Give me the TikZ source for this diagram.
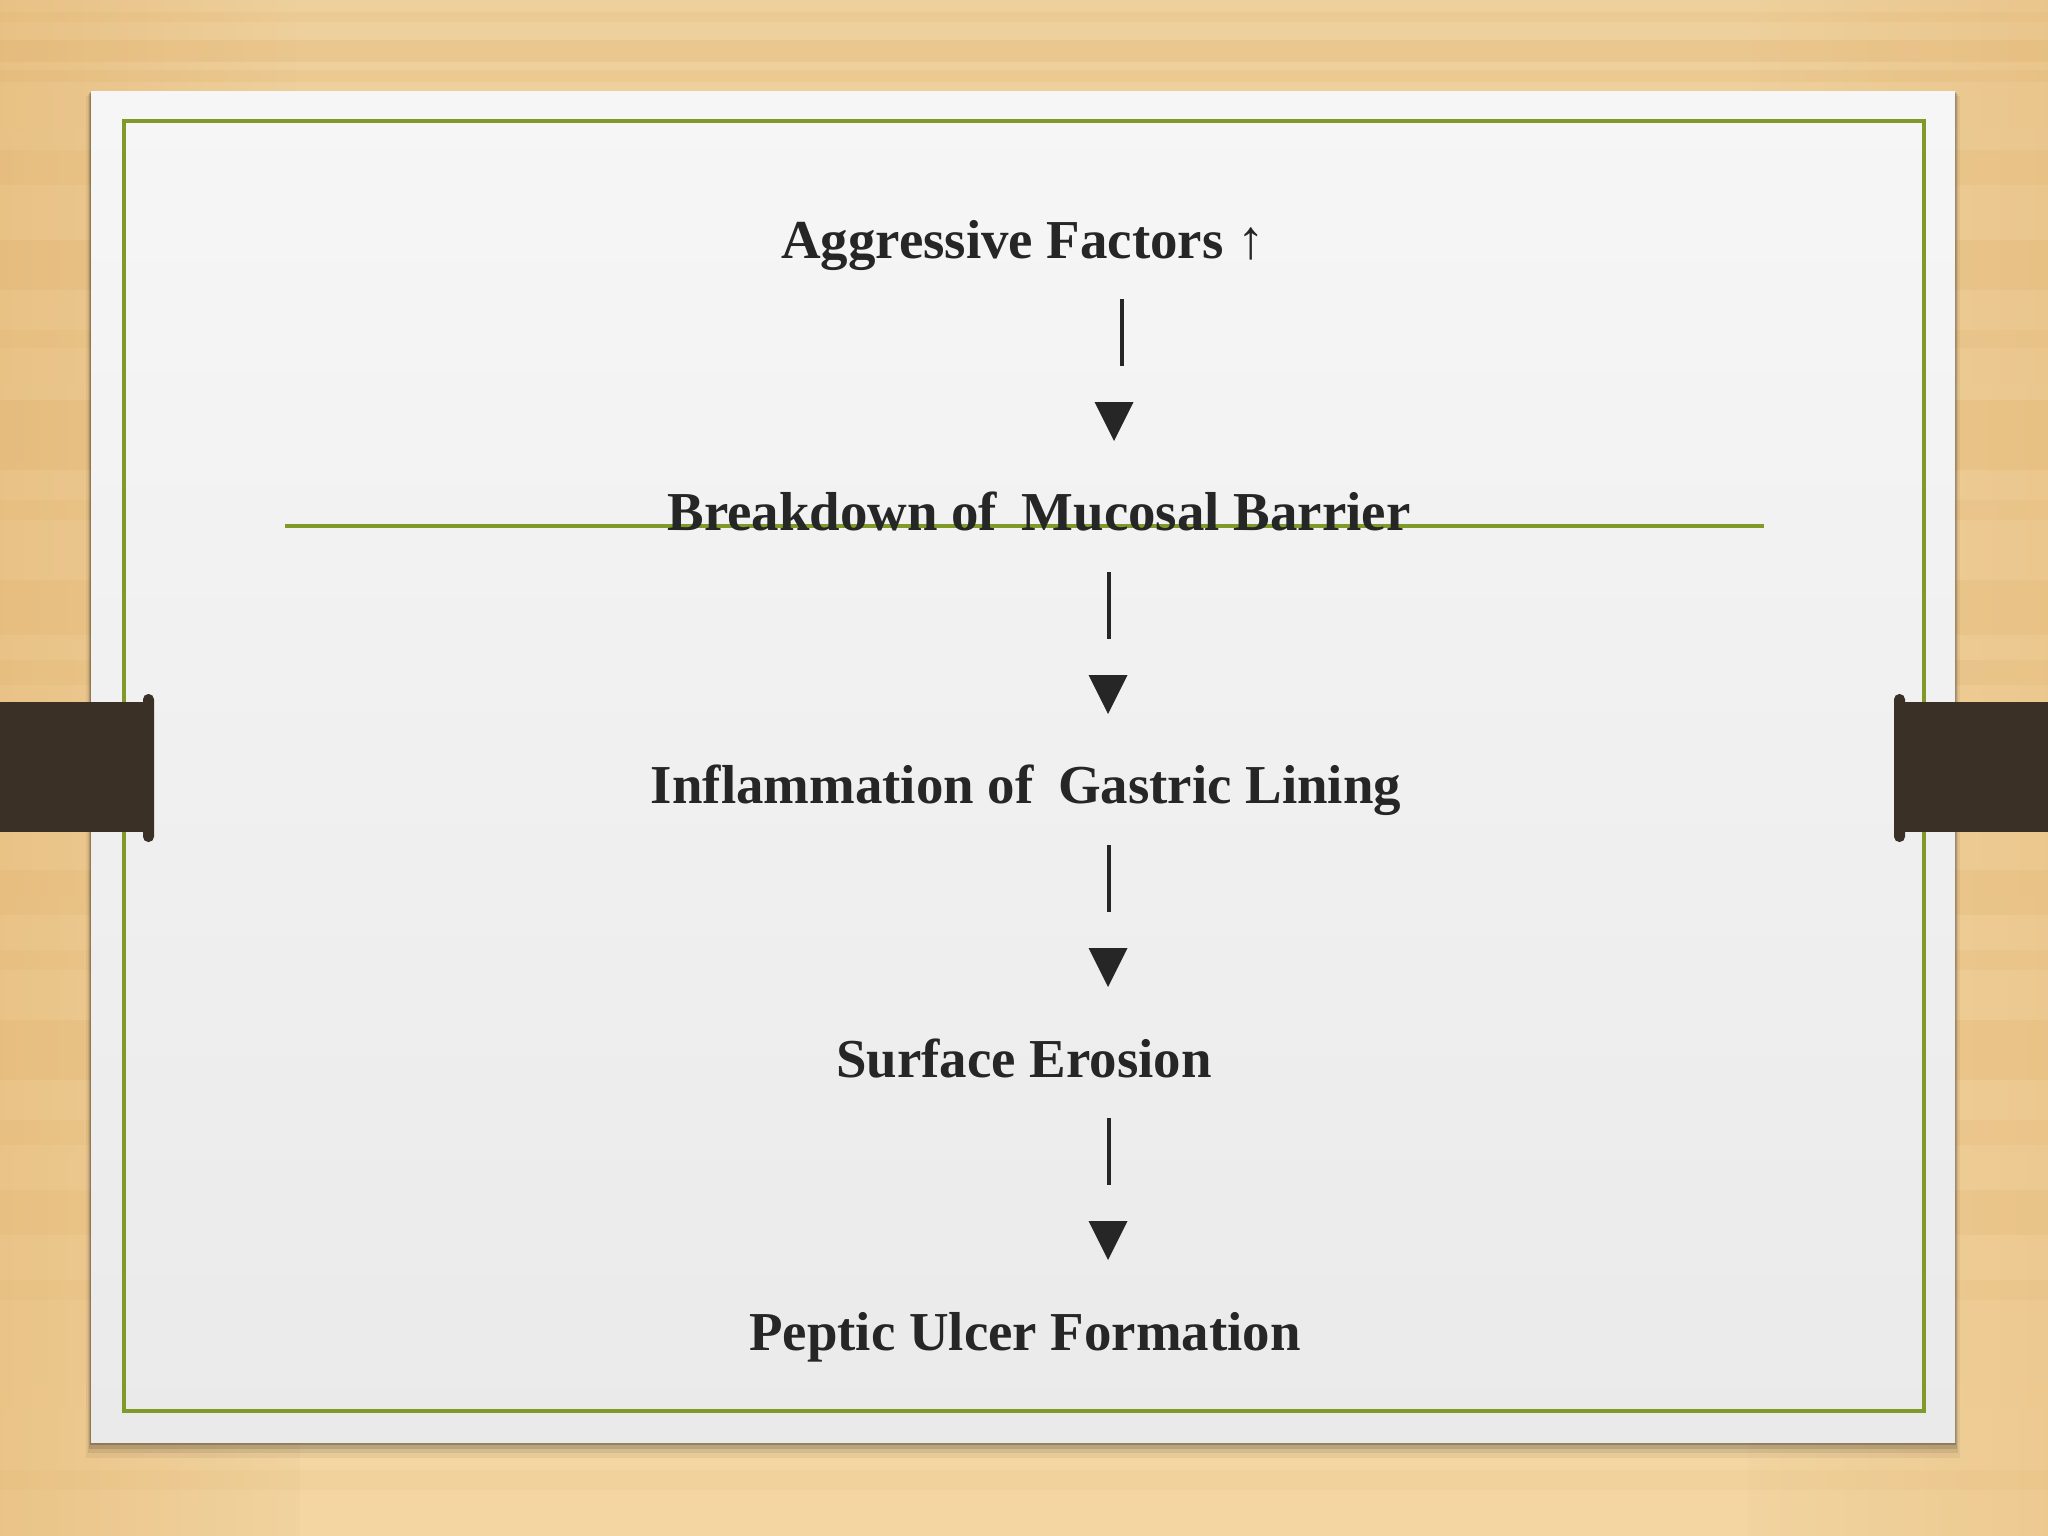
\documentclass[tikz,border=0pt]{standalone}
\usepackage{fontspec}
\setmainfont{Liberation Serif}
\usetikzlibrary{calc}
\definecolor{woodA}{RGB}{238,208,156}
\definecolor{woodB}{RGB}{224,174,104}
\definecolor{woodC}{RGB}{243,214,162}
\definecolor{cardtop}{RGB}{246,246,246}
\definecolor{cardbot}{RGB}{234,234,234}
\definecolor{olive}{RGB}{128,154,42}
\definecolor{clipc}{RGB}{59,48,38}
\definecolor{ink}{RGB}{38,38,38}
\tikzset{
  label/.style={font=\fontsize{15.6pt}{18pt}\selectfont\bfseries, text=ink, anchor=base, inner sep=0pt},
  stem/.style={draw=ink, line width=1.4pt},
  tri/.style={fill=ink},
  greenline/.style={draw=olive, line width=0.9pt},
  cliptab/.style={fill=clipc, rounded corners=1.5pt}
}
\begin{document}
\begin{tikzpicture}[x=0.01cm,y=-0.01cm]
\useasboundingbox (0,0) rectangle (2048,1536);
% wood background
\shade[top color=woodA, bottom color=woodC] (0,0) rectangle (2048,1536);
\shade[left color=woodB, right color=woodA, opacity=0.45] (0,0) rectangle (300,1536);
\shade[left color=woodA, right color=woodB, opacity=0.3] (1748,0) rectangle (2048,1536);
\foreach \y/\h/\o in {12/10/0.15,40/22/0.25,70/12/0.2,150/35/0.18,240/50/0.22,330/18/0.15,400/70/0.25,500/20/0.15,580/55/0.2,660/25/0.18,870/45/0.2,950/20/0.15,1020/60/0.22,1120/25/0.15,1190/45/0.18,1280/20/0.12,1470/20/0.1}
  \fill[woodB, opacity=\o] (0,\y) rectangle (2048,\y+\h);
% card shadow
\foreach \d/\o in {16/0.05,11/0.08,7/0.12,3/0.2}
  \fill[black, opacity=\o] (91-\d*0.3,91+\d*0.3) rectangle (1955+\d*0.3,1442+\d);
% card
\shade[top color=cardtop, bottom color=cardbot] (91,91) rectangle (1955,1442);
% green frame
\draw[greenline] (124,121) rectangle (1924,1411);
\draw[greenline] (285,526) -- (1764,526);
% clips
\fill[clipc] (0,702) rectangle (150,832);
\fill[cliptab] (143,694) rectangle (154,842);
\fill[clipc] (1898,702) rectangle (2048,832);
\fill[cliptab] (1894,694) rectangle (1905,842);
% text nodes
\node[label] (n1) at (1023,258) {Aggressive Factors {\mdseries ↑}};
\node[label] (n2) at (1039,530) {Breakdown of\hspace{0.45em}Mucosal Barrier};
\node[label] (n3) at (1026,803) {Inflammation of\hspace{0.45em}Gastric Lining};
\node[label] (n4) at (1024,1077) {Surface Erosion};
\node[label] (n5) at (1025,1350) {Peptic Ulcer Formation};
% connectors: stem + triangle head
\foreach \i/\sx/\sy/\tx/\ty in {1/1122/299/1114/402, 2/1109/572/1108/675, 3/1109/845/1108/948, 4/1109/1118/1108/1221}{
  \coordinate (s\i t) at (\sx,\sy);
  \coordinate (s\i b) at (\sx,\sy+67);
  \coordinate (h\i) at (\tx,\ty);
  \draw[stem] (s\i t) -- (s\i b);
  \fill[tri] ($(h\i)+(-19.5,0)$) -- ($(h\i)+(19.5,0)$) -- ($(h\i)+(0,39)$) -- cycle;
}
\end{tikzpicture}
\end{document}
